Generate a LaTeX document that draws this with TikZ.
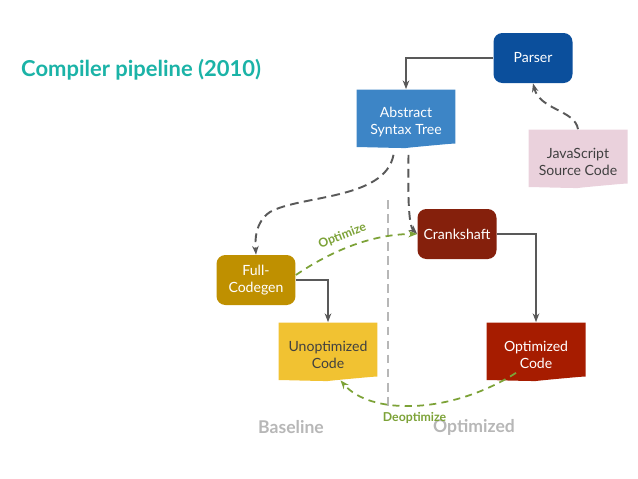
\documentclass[tikz,border=0pt]{standalone}
\usepackage{fontspec}
\setmainfont{Lato}
\usetikzlibrary{arrows.meta}
\definecolor{teal1}{HTML}{1BB3A7}
\definecolor{parserc}{HTML}{0B4F9C}
\definecolor{astc}{HTML}{3D85C6}
\definecolor{jsc}{HTML}{EAD1DC}
\definecolor{crankc}{HTML}{85200C}
\definecolor{fullc}{HTML}{BF9000}
\definecolor{unoptc}{HTML}{F1C232}
\definecolor{optc}{HTML}{A61C00}
\definecolor{linec}{HTML}{595959}
\definecolor{greenc}{HTML}{7CA237}
\definecolor{labc}{HTML}{B7B7B7}
\tikzset{
  box/.style={rounded corners=5pt, minimum width=1.58cm, minimum height=1cm,
    text=white, font=\fontsize{8}{10}\selectfont, align=center, inner sep=1pt},
  doc/.style={minimum width=1.98cm, minimum height=1.3cm, align=center,
    font=\fontsize{8}{10}\selectfont, inner sep=1pt, text=white,
    path picture={\fill[#1] (path picture bounding box.north west)
      -- (path picture bounding box.north east)
      -- ([yshift=0.22cm]path picture bounding box.south east)
      .. controls +(-0.6,-0.3) and +(0.6,-0.25) .. ([xshift=0.99cm,yshift=0.13cm]path picture bounding box.south west)
      .. controls +(-0.6,0.25) and +(0.5,-0.05) .. ([yshift=0.15cm]path picture bounding box.south west) -- cycle;}},
  solid arrow/.style={linec, line width=0.8pt, -{Stealth[length=5pt]}},
  dash arrow/.style={linec, line width=1.1pt, dash pattern=on 5pt off 3pt, -{Stealth[length=5pt]}},
  green arrow/.style={greenc, line width=1pt, dash pattern=on 4pt off 3pt, -{Stealth[length=5pt]}},
  lab/.style={font=\bfseries\fontsize{10}{12}\selectfont, text=labc}
}
\begin{document}
\begin{tikzpicture}[x=0.02cm, y=-0.02cm]
\useasboundingbox (0,0) rectangle (638,478);
\node[anchor=west, text=teal1, font=\bfseries\fontsize{12.5}{14}\selectfont] (title) at (15,70) {Compiler pipeline (2010)};
\node[box, fill=parserc] (parser) at (533,58) {Parser};
\node[doc=astc] (ast) at (406,122) {Abstract\\Syntax Tree};
\node[doc=jsc, text=black!75] (js) at (578,162) {JavaScript\\Source Code};
\node[box, fill=crankc] (crank) at (457,234) {Crankshaft};
\node[box, fill=fullc] (full) at (256,280) {Full-\\Codegen};
\node[doc=unoptc, text=black!75] (unopt) at (328,355) {Unoptimized\\Code};
\node[doc=optc] (opt) at (536,355) {Optimized\\Code};
\coordinate (sepTop) at (388,200);
\coordinate (sepBot) at (388,410);
\draw[labc, line width=0.8pt, dash pattern=on 5pt off 3pt] (sepTop) -- (sepBot);
\node[lab] (base) at (291,427) {Baseline};
\node[lab] (optl) at (474,427) {Optimized};
\draw[solid arrow] (parser.west) -| (ast.north);
\draw[dash arrow] (js.north) .. controls (575,110) and (540,110) .. (parser.south);
\draw[dash arrow] ([xshift=-0.25cm]ast.south) .. controls (385,200) and (300,195) .. (270,212) .. controls (255,222) and (255,240) .. (full.north);
\draw[dash arrow] ([xshift=0.05cm]ast.south) .. controls (408,190) and (408,225) .. (crank.west);
\draw[green arrow] ([yshift=0.1cm]full.east) .. controls (340,245) and (380,234) .. node[pos=0.4, above, sloped, font=\bfseries\fontsize{7}{8}\selectfont, text=greenc] {Optimize} (crank.west);
\draw[solid arrow] (crank.east) -| (opt.north);
\draw[solid arrow] ([yshift=0cm]full.east) -| (unopt.north);
\draw[green arrow] ([xshift=-0.4cm,yshift=0.3cm]opt.south) .. controls (450,415) and (370,415) .. node[pos=0.5, below, font=\bfseries\fontsize{7}{8}\selectfont, text=greenc] {Deoptimize} ([xshift=0.25cm,yshift=0.15cm]unopt.south);
\end{tikzpicture}
\end{document}
